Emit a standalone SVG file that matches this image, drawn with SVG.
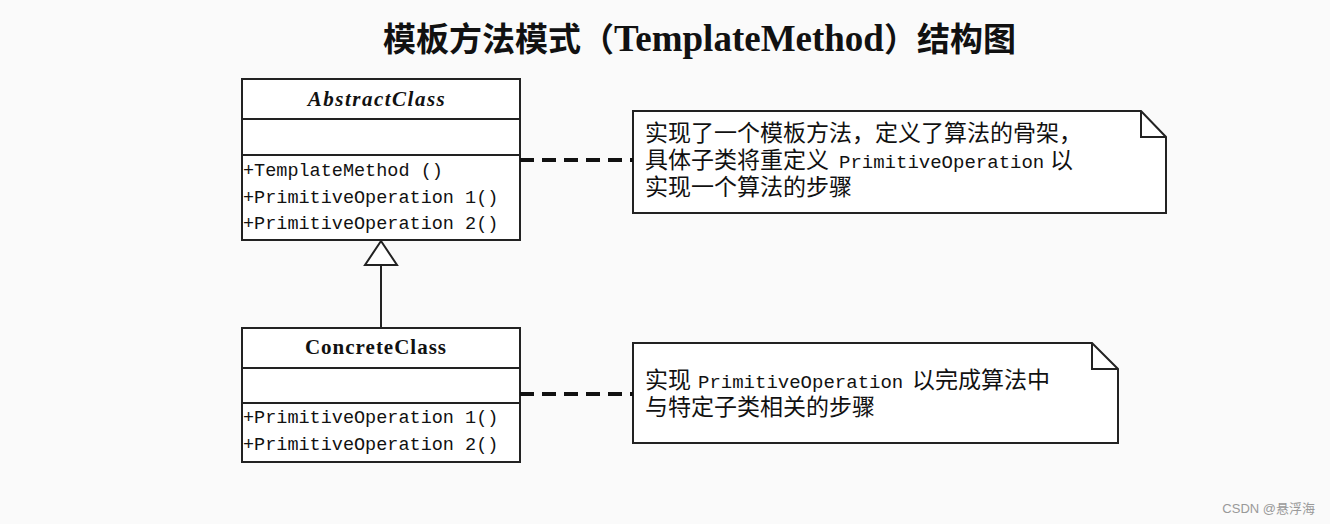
<svg xmlns="http://www.w3.org/2000/svg" width="1330" height="524" viewBox="0 0 1330 524">
<style>
.box{fill:#ffffff;stroke:#222;stroke-width:2}
.ln{stroke:#222;stroke-width:2;fill:none}
.mono{font-family:"Liberation Mono",monospace;font-size:18.5px;fill:#111}
.cjk{font-family:"Noto Sans CJK SC",sans-serif;font-size:23px;fill:#111}
.nm{font-family:"Liberation Mono",monospace;font-size:19px;fill:#111}
.dash{stroke:#111;stroke-width:4;stroke-dasharray:14 8;fill:none}
</style>
<rect width="1330" height="524" fill="#fafafa"/>
<text x="383" y="51" font-family="Noto Sans CJK SC,sans-serif" font-size="33" font-weight="bold" fill="#111">模板方法模式（<tspan font-family="Liberation Serif,serif" font-size="37">TemplateMethod</tspan>）结构图</text>

<g id="AbstractClass">
<rect class="box" x="242" y="79" width="278" height="161"/>
<line class="ln" x1="242" y1="119" x2="520" y2="119"/>
<line class="ln" x1="242" y1="155" x2="520" y2="155"/>
<text x="377" y="106" text-anchor="middle" font-family="Liberation Serif,serif" font-style="italic" font-weight="bold" font-size="21" letter-spacing="1.5" fill="#111">AbstractClass</text>
<text class="mono" x="243" y="176">+TemplateMethod ()</text>
<text class="mono" x="243" y="203">+PrimitiveOperation 1()</text>
<text class="mono" x="243" y="229">+PrimitiveOperation 2()</text>
</g>

<g id="ConcreteClass">
<rect class="box" x="242" y="328" width="278" height="134"/>
<line class="ln" x1="242" y1="368" x2="520" y2="368"/>
<line class="ln" x1="242" y1="403" x2="520" y2="403"/>
<text x="376" y="354" text-anchor="middle" font-family="Liberation Serif,serif" font-weight="bold" font-size="21" letter-spacing="1" fill="#111">ConcreteClass</text>
<text class="mono" x="243" y="423">+PrimitiveOperation 1()</text>
<text class="mono" x="243" y="450">+PrimitiveOperation 2()</text>
</g>

<g id="Note1">
<path class="box" d="M633 111 H1141 L1166 137 V213 H633 Z"/>
<path class="ln" d="M1141 111 V137 H1166"/>
<text class="cjk" x="645" y="141">实现了一个模板方法，定义了算法的骨架，</text>
<text class="cjk" x="645" y="168">具体子类将重定义</text>
<text class="nm" x="839" y="168">PrimitiveOperation</text>
<text class="cjk" x="1050" y="168">以</text>
<text class="cjk" x="645" y="195">实现一个算法的步骤</text>
</g>

<g id="Note2">
<path class="box" d="M633 343 H1092 L1118 369 V443 H633 Z"/>
<path class="ln" d="M1092 343 V369 H1118"/>
<text class="cjk" x="645" y="388">实现</text>
<text class="nm" x="698" y="388" font-size="18">PrimitiveOperation</text>
<text class="cjk" x="912" y="388">以完成算法中</text>
<text class="cjk" x="645" y="415">与特定子类相关的步骤</text>
</g>

<g id="connectors">
<line class="ln" x1="381" y1="265" x2="381" y2="328"/>
<polygon points="381,241 365,265 397,265" fill="#fff" stroke="#222" stroke-width="2"/>
<line class="dash" x1="520" y1="160" x2="633" y2="160"/>
<line class="dash" x1="520" y1="394" x2="633" y2="394"/>
</g>

<text x="1315" y="513" text-anchor="end" font-family="Liberation Sans,Noto Sans CJK SC,sans-serif" font-size="13" fill="#999">CSDN @悬浮海</text>
</svg>
